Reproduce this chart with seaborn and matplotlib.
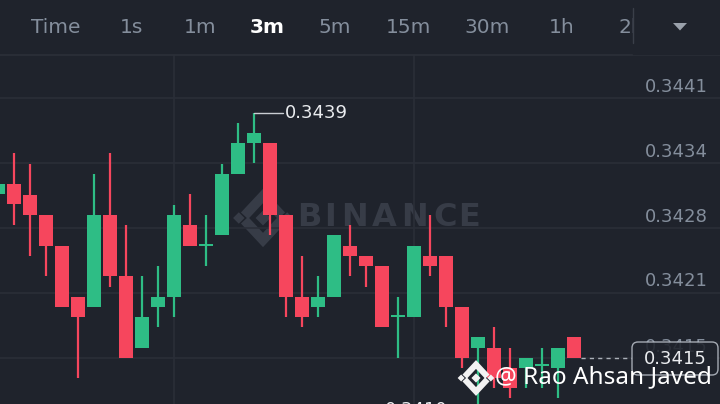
import numpy as np
import pandas as pd
import seaborn as sns
import matplotlib
matplotlib.use("Agg")
import matplotlib.pyplot as plt
from matplotlib.patches import FancyBboxPatch, Polygon, Rectangle

# ---------------- data ----------------
candle_idx = list(range(-1, 36))
opens = [0.34314, 0.34324, 0.34313, 0.34293, 0.34262, 0.34211, 0.34201, 0.34293, 0.34232, 0.34160,
         0.34201, 0.34211, 0.34283, 0.34262, 0.34273, 0.34334, 0.34365, 0.34365, 0.34293, 0.34211,
         0.34201, 0.34211, 0.34262, 0.34252, 0.34242, 0.34191, 0.34191, 0.34252, 0.34252, 0.34201,
         0.34160, 0.34160, 0.34140, 0.34140, 0.34142, 0.34140, 0.34171]
highs = [0.34324, 0.34355, 0.34344, 0.34293, 0.34262, 0.34211, 0.34334, 0.34355, 0.34283, 0.34232,
         0.34242, 0.34303, 0.34314, 0.34293, 0.34344, 0.34385, 0.34395, 0.34365, 0.34293, 0.34252,
         0.34232, 0.34273, 0.34283, 0.34252, 0.34242, 0.34211, 0.34262, 0.34293, 0.34252, 0.34201,
         0.34171, 0.34181, 0.34160, 0.34150, 0.34160, 0.34160, 0.34171]
lows = [0.34314, 0.34283, 0.34252, 0.34232, 0.34201, 0.34130, 0.34201, 0.34221, 0.34150, 0.34160,
        0.34181, 0.34191, 0.34262, 0.34242, 0.34273, 0.34334, 0.34345, 0.34273, 0.34191, 0.34181,
        0.34191, 0.34211, 0.34232, 0.34221, 0.34181, 0.34150, 0.34191, 0.34232, 0.34181, 0.34140,
        0.34100, 0.34120, 0.34110, 0.34120, 0.34120, 0.34110, 0.34150]
closes = [0.34324, 0.34304, 0.34293, 0.34262, 0.34201, 0.34191, 0.34293, 0.34232, 0.34150, 0.34191,
          0.34211, 0.34293, 0.34262, 0.34263, 0.34334, 0.34365, 0.34375, 0.34293, 0.34211, 0.34191,
          0.34211, 0.34273, 0.34252, 0.34242, 0.34181, 0.34192, 0.34262, 0.34242, 0.34201, 0.34150,
          0.34171, 0.34130, 0.34120, 0.34150, 0.34143, 0.34160, 0.34150]

grid_prices = [0.34085, 0.34150, 0.34215, 0.34280, 0.34345, 0.34410]
grid_labels = ["0.3408", "0.3415", "0.3421", "0.3428", "0.3434", "0.3441"]
timeframes = ["Time", "1s", "1m", "3m", "5m", "15m", "30m", "1h", "2h"]
active_tf = "3m"
high_label = "0.3439"
low_label = "0.3410"
last_label = "0.3415"
watermark = "BINANCE"
credit = "@ Rao Ahsan Javed"

# ---------------- style ----------------
BG = "#1f232c"
GRID = "#2a2e38"
UP = "#2ebd85"
DOWN = "#f6465d"
LABEL = "#848e9c"
WHITE = "#eaecef"
WM = "#373c47"

sns.set_theme(style="dark", rc={"axes.facecolor": BG, "figure.facecolor": BG,
                                "axes.edgecolor": BG})
plt.rcParams["font.family"] = ["DejaVu Sans"]

df = pd.DataFrame({"k": candle_idx, "open": opens, "high": highs,
                   "low": lows, "close": closes})
df["up"] = df["close"] >= df["open"]
df["color"] = np.where(df["up"], UP, DOWN)
df["bottom"] = df[["open", "close"]].min(axis=1)
df["height"] = (df["close"] - df["open"]).abs().clip(lower=0.000018)

W, H = 720, 404
fig = plt.figure(figsize=(W / 100, H / 100), dpi=100)

# background pixel axes (watermark)
bg = fig.add_axes([0, 0, 1, 1], zorder=0)
bg.set_xlim(0, W)
bg.set_ylim(H, 0)
bg.set_axis_off()
bg.add_patch(Rectangle((0, 0), W, H, color=BG, zorder=0))

# main chart axes
ax = fig.add_axes([0, 0, 1, 1], zorder=1)
ax.patch.set_alpha(0)
ax.set_xlim(-0.875, 44.125)
ax.set_ylim(0.34104, 0.34508)
ax.set_axis_off()

# overlay pixel axes
ov = fig.add_axes([0, 0, 1, 1], zorder=5)
ov.set_xlim(0, W)
ov.set_ylim(H, 0)
ov.set_axis_off()
ov.patch.set_alpha(0)


def to_px(x, y):
    dx, dy = ax.transData.transform((x, y))
    return dx, H - dy


def logo(axo, cx, cy, s, color, z, alpha=1.0):
    def diamond(x, y, r):
        return Polygon([(x, y - r), (x + r, y), (x, y + r), (x - r, y)],
                       closed=True, color=color, zorder=z, alpha=alpha, lw=0)
    axo.add_patch(diamond(cx, cy, 0.17 * s))
    axo.add_patch(diamond(cx - 0.55 * s, cy, 0.13 * s))
    axo.add_patch(diamond(cx + 0.55 * s, cy, 0.13 * s))
    lw = 0.16 * s
    for sgn in (-1, 1):
        axo.plot([cx - 0.42 * s, cx, cx + 0.42 * s],
                 [cy - sgn * 0.05 * s, cy - sgn * 0.5 * s, cy - sgn * 0.05 * s],
                 color=color, lw=lw, zorder=z, alpha=alpha, solid_joinstyle="miter",
                 solid_capstyle="butt")


# background watermark (behind candles)
logo(bg, 263, 218, 44, WM, 2)
wm_x = [309, 330, 354, 384, 414, 445, 469]
for ch, xp in zip(watermark, wm_x):
    bg.text(xp, 217, ch, ha="center", va="center",
            fontsize=23, fontweight="bold", color=WM, zorder=2)

# grid
for g in grid_prices:
    ax.axhline(g, color=GRID, lw=1.2, zorder=1)
for v in [10, 25]:
    ax.axvline(v, color=GRID, lw=1.2, zorder=1)

# candles
ax.vlines(df["k"], df["low"], df["high"], colors=df["color"], lw=1.6, zorder=3)
ax.bar(df["k"], df["height"], bottom=df["bottom"], width=0.84, color=df["color"],
       linewidth=0, zorder=4)

# last price dashed line
last = df.iloc[-1]
x_end = (632 - 14) / 16
sns.lineplot(x=[last["k"] + 0.42, x_end], y=[last["close"], last["close"]], ax=ax,
             color="#aab0b8", lw=1, zorder=3)
ax.lines[-1].set_dashes([3, 3])
ax.set_xlim(-0.875, 44.125)
ax.set_ylim(0.34104, 0.34508)
ax.set_axis_off()

# tick labels
for g, lab in zip(grid_prices, grid_labels):
    _, yp = to_px(0, g)
    ov.text(708, yp - 11.5, lab, ha="right", va="center", fontsize=13, color=LABEL, zorder=2)

_, ylast = to_px(0, last["close"])
box = FancyBboxPatch((632, ylast - 16), 86, 33,
                     boxstyle="round,pad=0,rounding_size=6",
                     fc=BG, ec="#b7bdc6", lw=1, alpha=0.88, zorder=6)
ov.add_patch(box)
ov.text(675, ylast + 1, last_label, ha="center", va="center", fontsize=13,
        color=WHITE, zorder=7)

# high label
kh = int(df["high"].idxmax())
xh, yh = to_px(df.loc[kh, "k"], df.loc[kh, "high"])
ov.plot([xh, xh + 29], [yh, yh], color="#c9cdd3", lw=1, zorder=6)
ov.text(xh + 31, yh, high_label, ha="left", va="center", fontsize=13, color=WHITE, zorder=6)

# low label
kl = int(df["low"].idxmin())
xl, yl = to_px(df.loc[kl, "k"], df.loc[kl, "low"])
ov.plot([xl - 29, xl], [yl, yl], color="#c9cdd3", lw=1, zorder=6)
ov.text(xl - 31, yl + 2, low_label, ha="right", va="center", fontsize=13, color=WHITE, zorder=6)

# credit watermark
logo(ov, 476, 378, 27, "#f2f2f2", 8)
ov.text(495, 377, credit, ha="left", va="center", fontsize=17.5, color="white",
        family=["Noto Sans", "DejaVu Sans"], zorder=8)

# header
ov.add_patch(Rectangle((0, 0), W, 54, color=BG, zorder=9))
ov.plot([0, W], [54.5, 54.5], color="#2c3039", lw=1.2, zorder=10)
tf_x = [56, 132, 200, 267, 335, 409, 487, 562, 618]
for tf, xp in zip(timeframes, tf_x):
    active = tf == active_tf
    ov.text(xp, 27.5, tf, ha="left" if tf == "2h" else "center", va="center",
            fontsize=14.5, color="white" if active else LABEL,
            fontweight="bold" if active else "normal", zorder=10)
ov.add_patch(Rectangle((633, 0), W - 633, 53.5, color=BG, zorder=11))
ov.plot([633, 633], [8, 43], color="#3a3f49", lw=1, zorder=12)
ov.add_patch(Polygon([(673, 23), (687, 23), (680, 30.5)], closed=True, color="#9aa1ab",
                     zorder=12, lw=0))

fig.savefig("out.png", dpi=100, facecolor=BG)
